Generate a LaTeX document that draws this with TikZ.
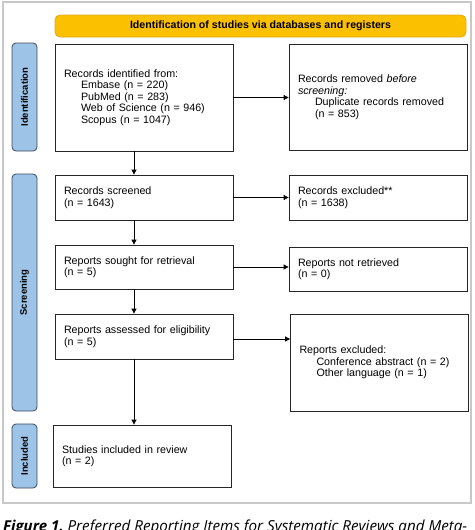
\documentclass[tikz,border=0pt]{standalone}
\usepackage{fontspec}
\setmainfont{Liberation Sans}
\newfontfamily\captionfont{Open Sans}
\usetikzlibrary{arrows.meta}

\definecolor{phaseblue}{RGB}{157,195,230}
\definecolor{phaseline}{RGB}{60,75,95}
\definecolor{headorange}{RGB}{251,192,0}
\definecolor{headline}{RGB}{225,170,30}
\definecolor{framegray}{RGB}{200,200,200}

\newcommand{\ind}{\hspace*{17pt}}

\begin{document}
\begin{tikzpicture}[x=1pt, y=-1pt,
  record/.style={draw=black!85, line width=0.8pt, fill=white, align=left, text width=160pt, inner xsep=9pt, inner ysep=2pt, font=\fontsize{10.7}{11.5}\selectfont},
  phase/.style={draw=phaseline, fill=phaseblue, line width=0.8pt, rounded corners=4pt, rotate=90, minimum height=25pt, inner sep=0pt, font=\bfseries\fontsize{9.5}{10}\selectfont},
  flow/.style={-{Triangle[length=5pt, width=5pt]}, line width=0.8pt}]
\clip (0,0) rectangle (474,530);
\fill[white] (0,0) rectangle (474,530);
\draw[framegray, line width=2.5pt] (3,2) rectangle (471,503);

\node[draw=headline, fill=headorange, line width=0.8pt, rounded corners=5pt, minimum width=411pt, minimum height=22pt, inner sep=0pt, font=\bfseries\fontsize{10.6}{11}\selectfont] (header) at (260.5,26) {Identification of studies via databases and registers};

% phases
\node[phase, minimum width=108pt] (identification) at (24.5,97) {Identification};
\node[phase, minimum width=237pt] (screening) at (24.5,292.5) {Screening};
\node[phase, minimum width=64pt] (included tab) at (24.5,456) {Included};

% left column
\node[record, minimum height=107pt] (records identified) at (144,97.5) {Records identified from:\\
\ind Embase (n = 220)\\
\ind PubMed (n = 283)\\
\ind Web of Science (n = 946)\\
\ind Scopus (n = 1047)};

\node[record, minimum height=45pt] (records screened) at (144,197.5) {Records screened\\
(n = 1643)};

\node[record, minimum height=44pt] (reports sought) at (144,267) {Reports sought for retrieval\\
(n = 5)};

\node[record, minimum height=45pt] (reports assessed) at (144,336.5) {Reports assessed for eligibility\\
(n = 5)};

\node[record, minimum height=62pt] (studies included) at (142,456) {Studies included in review\\
(n = 2)};

% right column
\node[record, minimum height=106pt] (records removed) at (378,97) {Records removed \textit{before}\\
\textit{screening:}\\
\ind Duplicate records removed\\
\ind (n = 853)};

\node[record, minimum height=45pt] (records excluded) at (378,197.5) {Records excluded**\\
(n = 1638)};

\node[record, minimum height=44pt] (reports not retrieved) at (378,269) {Reports not retrieved\\
(n = 0)};

\node[record, minimum height=97pt] (reports excluded) at (379.5,362.5) {Reports excluded:\\
\ind Conference abstract (n = 2)\\
\ind Other language (n = 1)};

% arrows
\draw[flow] (records identified.east) -- (records identified.east -| records removed.west);
\draw[flow] (records screened.east) -- (records screened.east -| records excluded.west);
\draw[flow] (reports sought.east) -- (reports sought.east -| reports not retrieved.west);
\draw[flow] ([yshift=-2.5pt]reports assessed.east) -- ([yshift=-2.5pt]reports assessed.east -| reports excluded.west);
\draw[flow] ([xshift=-10pt]records identified.south) -- ([xshift=-10pt]records screened.north);
\draw[flow] ([xshift=-10pt]records screened.south) -- ([xshift=-10pt]reports sought.north);
\draw[flow] ([xshift=-10pt]reports sought.south) -- ([xshift=-10pt]reports assessed.north);
\draw[flow] ([xshift=-10pt]reports assessed.south) -- ([xshift=-10pt]reports assessed.south |- studies included.north);

\node[anchor=base west, inner sep=0pt, font=\captionfont\fontsize{15.2}{15.2}\selectfont\itshape] (caption) at (3,531.5) {{\bfseries\fontsize{15}{15}\selectfont Figure 1.}\hspace{4pt}Preferred Reporting Items for Systematic Reviews and Meta-};
\end{tikzpicture}
\end{document}
